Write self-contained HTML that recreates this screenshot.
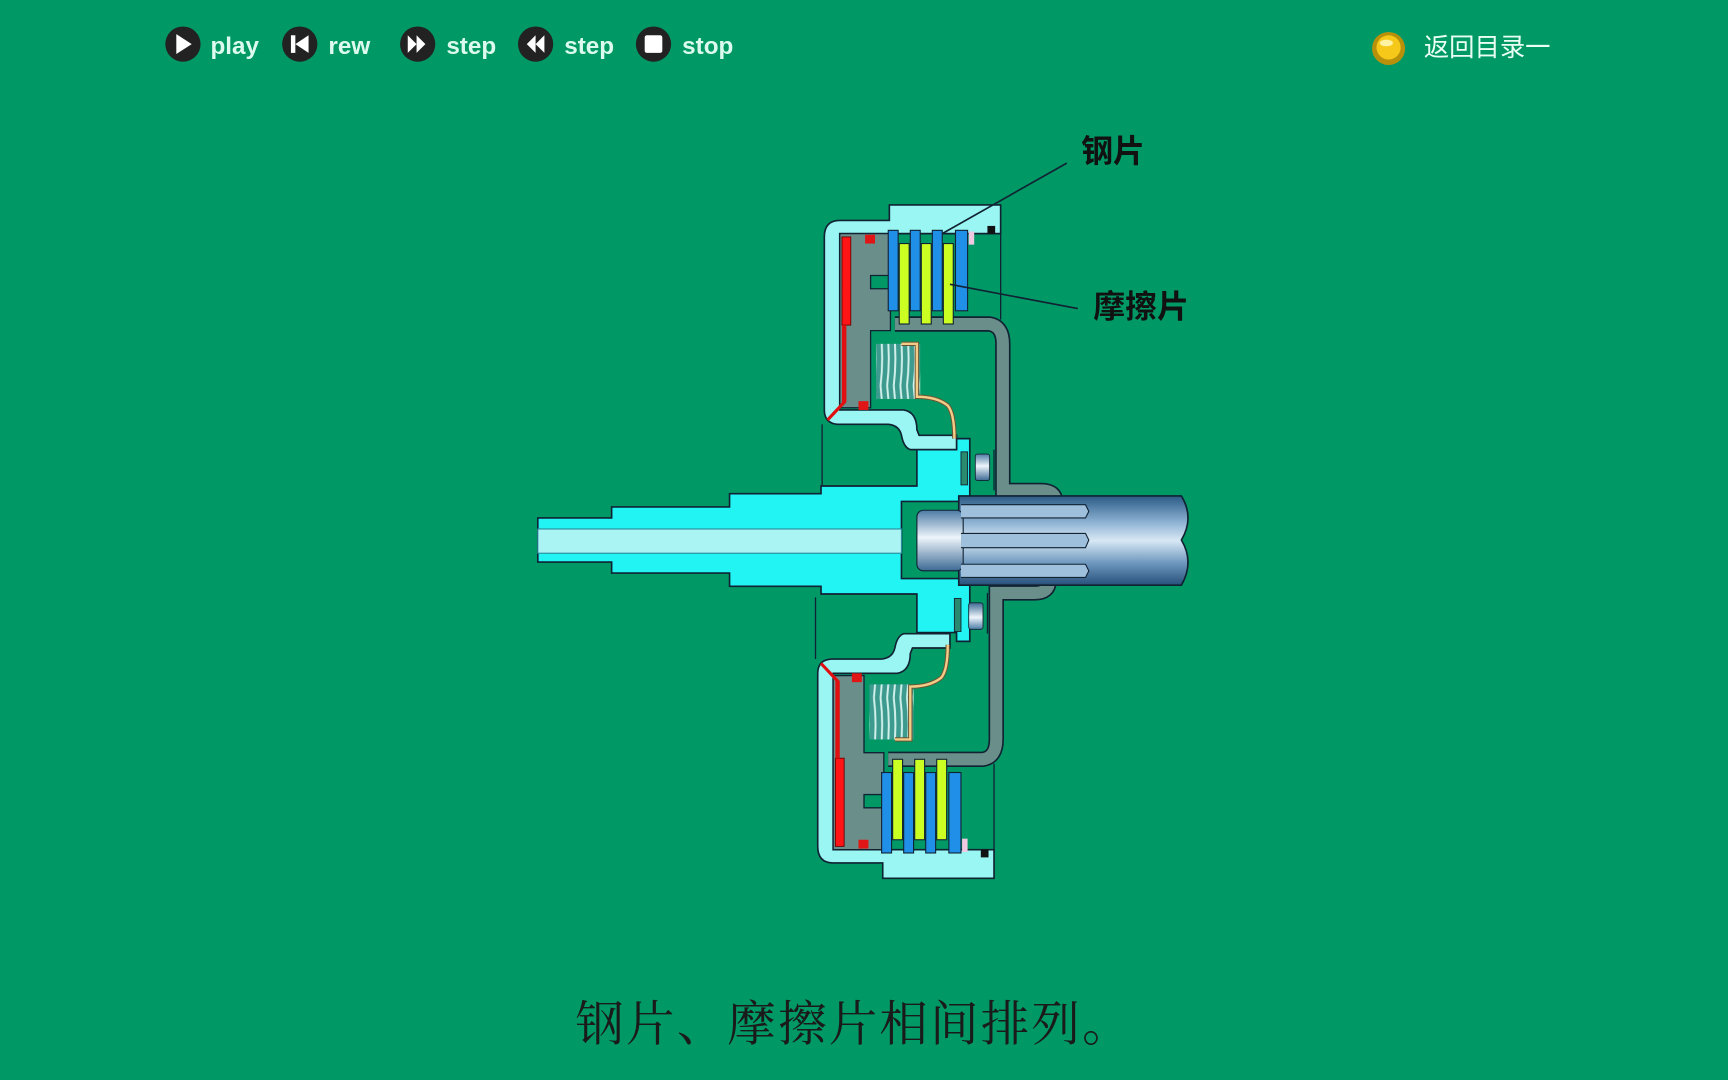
<!DOCTYPE html>
<html><head><meta charset="utf-8"><style>
html,body{margin:0;padding:0;background:#009966;}
svg{display:block}
</style></head><body>
<svg width="1728" height="1080" viewBox="0 0 1568 980" preserveAspectRatio="none" xmlns="http://www.w3.org/2000/svg">
<defs>
<linearGradient id="sh" x1="0" y1="0" x2="0" y2="1">
<stop offset="0" stop-color="#2a5a86"/><stop offset="0.3" stop-color="#8fb4d4"/><stop offset="0.5" stop-color="#d8e8f4"/><stop offset="0.75" stop-color="#6f98bf"/><stop offset="1" stop-color="#27507a"/>
</linearGradient>
<linearGradient id="sh2" x1="0" y1="0" x2="0" y2="1">
<stop offset="0" stop-color="#4d7ca6"/><stop offset="0.45" stop-color="#eef5fb"/><stop offset="1" stop-color="#3d6a94"/>
</linearGradient>
<pattern id="spr" width="6" height="50" patternUnits="userSpaceOnUse">
<rect width="6" height="50" fill="#3c9a8e"/><path d="M1 0 Q4 25 1 50" stroke="#d0f0ea" stroke-width="1.8" fill="none"/>
</pattern>
<g id="half">
<path d="M807,186 L908,186 L908,212 L762,212 L762,372 L820,372 Q832,374 832,390 L834,395 L868,395 L868,408 L826,408 Q820,406 818,395 Q816,386 806,385 L760,385 Q748,384 748,372 L748,215 Q748,200 762,200 L807,200 Z" fill="#99f6f2" stroke="#123" stroke-width="1.5"/>
<path d="M762,212 L808,212 L808,250 L790,250 L790,262 L808,262 L808,300 L790,300 L790,370 L762,370 Z" fill="#6a8e8a" stroke="#123" stroke-width="1.2"/>
<rect x="764" y="215" width="8" height="80" fill="#ff1515" stroke="#600" stroke-width="0.8"/>
<path d="M764,295 L768,295 L768,365 L752,382 L750,380 L764,365 Z" fill="#e01010"/>
<rect x="785" y="213" width="9" height="8" fill="#e01515"/>
<rect x="779" y="364" width="9" height="8" fill="#e01515"/>
<path d="M812,294 L898,294 Q910,296 910,312 L910,445 L945,445 Q958,445 958,456" fill="none" stroke="#123" stroke-width="14"/>
<path d="M812,294 L898,294 Q910,296 910,312 L910,445 L945,445 Q958,445 958,456" fill="none" stroke="#6a8e8a" stroke-width="11"/>
<g stroke="#123" stroke-width="1">
<rect x="806" y="209" width="9" height="73" fill="#1f8fe8"/>
<rect x="826" y="209" width="9" height="73" fill="#1f8fe8"/>
<rect x="846" y="209" width="9" height="73" fill="#1f8fe8"/>
<rect x="867" y="209" width="11" height="73" fill="#1f8fe8"/>
<rect x="816" y="221" width="9" height="73" fill="#ccff22"/>
<rect x="836" y="221" width="9" height="73" fill="#ccff22"/>
<rect x="856" y="221" width="9" height="73" fill="#ccff22"/>
</g>
<rect x="879" y="210" width="5" height="12" fill="#f0c8e0"/>
<rect x="896" y="205" width="7" height="7" fill="#111"/>
<rect x="795" y="312" width="40" height="50" fill="url(#spr)"/>
<path d="M818,312 L832,312 L832,360 Q850,360 860,368 Q866,375 866,398" fill="none" stroke="#6a5530" stroke-width="4"/>
<path d="M818,312 L832,312 L832,360 Q850,360 860,368 Q866,375 866,398" fill="none" stroke="#f2cc88" stroke-width="2.2"/>
<rect x="872" y="410" width="6" height="30" fill="#2a8a70" stroke="#123" stroke-width="0.8"/>
<rect x="885" y="412" width="13" height="24" rx="2" fill="url(#sh2)" stroke="#123" stroke-width="0.8"/>
<line x1="902" y1="408" x2="902" y2="445" stroke="#123" stroke-width="1.2"/>
<line x1="746" y1="385" x2="746" y2="441" stroke="#123" stroke-width="1.2"/>
<line x1="908" y1="212" x2="908" y2="290" stroke="#123" stroke-width="1.2"/>
</g>
</defs>
<rect width="1568" height="980" fill="#009966"/>
<g font-family="Liberation Sans, sans-serif" font-weight="bold" font-size="22" fill="#dcfbee">
<circle cx="166" cy="40" r="16" fill="#222"/><path d="M160,31 L174,40 L160,49 Z" fill="#fff"/>
<text x="191" y="49">play</text>
<circle cx="272" cy="40" r="16" fill="#222"/><rect x="264" y="32" width="4" height="16" fill="#fff"/><path d="M280,32 L268,40 L280,48 Z" fill="#fff"/>
<text x="298" y="49">rew</text>
<circle cx="379" cy="40" r="16" fill="#222"/><path d="M370,32 L378,40 L370,48 Z M378,32 L386,40 L378,48 Z" fill="#fff"/>
<text x="405" y="49">step</text>
<circle cx="486" cy="40" r="16" fill="#222"/><path d="M494,32 L486,40 L494,48 Z M486,32 L478,40 L486,48 Z" fill="#fff"/>
<text x="512" y="49">step</text>
<circle cx="593" cy="40" r="16" fill="#222"/><rect x="585" y="32" width="16" height="16" rx="2" fill="#fff"/>
<text x="619" y="49">stop</text>
</g>
<circle cx="1260" cy="44" r="15" fill="#b8900a"/><circle cx="1260" cy="43" r="11" fill="#f5c81a"/><ellipse cx="1258" cy="39" rx="6" ry="3" fill="#fff2a0"/>
<text x="1292" y="51" font-family="Liberation Sans, Noto Sans CJK SC, sans-serif" font-size="23" fill="#eafff4">返回目录一</text>
<path d="M488,470 L555,470 L555,460 L662,460 L662,448 L745,448 L745,441 L832,441 L832,408 L868,408 L868,398 L880,398 L880,455 L818,455 L818,525 L880,525 L880,582 L868,582 L868,574 L832,574 L832,539 L745,539 L745,532 L662,532 L662,520 L555,520 L555,510 L488,510 Z" fill="#22f4f4" stroke="#123" stroke-width="1.5"/>
<rect x="488" y="480" width="330" height="22" fill="#aaf4f4" stroke="#2a8a9a" stroke-width="1"/>
<use href="#half"/>
<use href="#half" transform="translate(-6,983) scale(1,-1)"/>
<path d="M870,450 L1072,450 Q1084,470 1072,490 Q1084,510 1072,531 L870,531 Z" fill="url(#sh)" stroke="#123" stroke-width="1.5"/>
<rect x="832" y="463" width="42" height="55" rx="6" fill="url(#sh2)" stroke="#123" stroke-width="1"/>
<g stroke="#123" stroke-width="1" fill="#9fc0dc">
<path d="M872,458 L985,458 L988,464 L985,470 L872,470"/>
<path d="M872,484 L985,484 L988,490 L985,497 L872,497"/>
<path d="M872,512 L985,512 L988,518 L985,524 L872,524"/>
</g>
<line x1="968" y1="148" x2="855" y2="212" stroke="#123" stroke-width="1.5"/>
<line x1="978" y1="280" x2="862" y2="258" stroke="#123" stroke-width="1.5"/>
<g font-family="Liberation Sans, Noto Sans CJK SC, sans-serif" font-size="29" font-weight="bold" fill="#111">
<text x="981" y="147">钢片</text>
<text x="992" y="288">摩擦片</text>
</g>
<text x="775" y="944" text-anchor="middle" font-family="Liberation Serif, Noto Serif CJK SC, serif" font-size="44" fill="#1a1a1a" letter-spacing="2">钢片、摩擦片相间排列。</text>
</svg>
</body></html>
